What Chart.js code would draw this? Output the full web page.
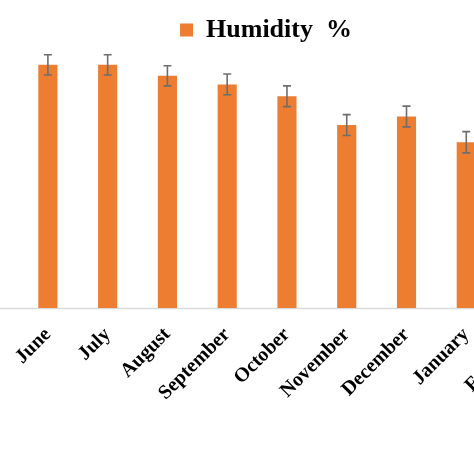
<!DOCTYPE html>
<html>
<head>
<meta charset="utf-8">
<script src="https://cdn.jsdelivr.net/npm/chart.js@4.4.1/dist/chart.umd.min.js"></script>
<style>
  html, body { margin: 0; padding: 0; background: #ffffff; }
  #wrap { width: 474px; height: 474px; overflow: hidden; position: relative; background: #fff; }
  #c { position: absolute; left: 0; top: 0; }
</style>
</head>
<body>
<div id="wrap"><canvas id="c" width="558" height="474"></canvas></div>
<script>
const months = ["June", "July", "August", "September", "October", "November", "December", "January", "February"];
const humidity = [82.0, 82.0, 78.3, 75.4, 71.4, 61.7, 64.6, 55.9, null];
const humidityError = [3.4, 3.4, 3.4, 3.5, 3.5, 3.5, 3.5, 3.6, null];
const seriesLabel = "Humidity  %";

const errorBars = {
  id: 'errorBars',
  afterDatasetsDraw(chart) {
    const meta = chart.getDatasetMeta(0);
    const ys = chart.scales.y;
    const ctx = chart.ctx;
    ctx.save();
    ctx.strokeStyle = '#6e6e6e';
    ctx.lineWidth = 1.6;
    meta.data.forEach((bar, i) => {
      const v = humidity[i], e = humidityError[i];
      if (v == null || e == null) return;
      const x = bar.x;
      const yt = ys.getPixelForValue(v + e);
      const yb = ys.getPixelForValue(v - e);
      ctx.beginPath();
      ctx.moveTo(x, yt); ctx.lineTo(x, yb);
      ctx.moveTo(x - 4, yt); ctx.lineTo(x + 4, yt);
      ctx.moveTo(x - 4, yb); ctx.lineTo(x + 4, yb);
      ctx.stroke();
    });
    ctx.restore();
  }
};

const axisLine = {
  id: 'axisLine',
  beforeDatasetsDraw(chart) {
    const ctx = chart.ctx;
    const y = chart.chartArea.bottom + 0.5;
    ctx.save();
    ctx.strokeStyle = '#d9d9d9';
    ctx.lineWidth = 1.5;
    ctx.beginPath();
    ctx.moveTo(0, y); ctx.lineTo(chart.width, y);
    ctx.stroke();
    ctx.restore();
  }
};

// the legend is centred over the visible part of the (cropped) chart
const legendShift = {
  id: 'legendShift',
  afterLayout(chart) {
    chart.legend.left -= 22;
    chart.legend.right -= 22;
  }
};

new Chart(document.getElementById('c'), {
  type: 'bar',
  data: {
    labels: months,
    datasets: [{
      label: seriesLabel,
      data: humidity,
      backgroundColor: '#ED7D31',
      borderWidth: 0,
      barPercentage: 0.32,
      categoryPercentage: 1.0
    }]
  },
  options: {
    responsive: false,
    animation: false,
    devicePixelRatio: 1,
    layout: { padding: { left: 18, right: 0, top: 0, bottom: 0 } },
    plugins: {
      legend: {
        display: true,
        position: 'top',
        labels: {
          boxWidth: 13,
          boxHeight: 13,
          padding: 17,
          color: '#000',
          font: { family: '"Liberation Serif", "Times New Roman", serif', size: 26, weight: 'bold' }
        }
      },
      tooltip: { enabled: false }
    },
    scales: {
      x: {
        grid: { display: false, drawTicks: false },
        border: { display: false },
        ticks: {
          autoSkip: false,
          minRotation: 45,
          maxRotation: 45,
          padding: 15,
          color: '#000',
          font: { family: '"Liberation Serif", "Times New Roman", serif', size: 20, weight: 'bold' }
        },
        afterFit(scale) { scale.height = 166; }
      },
      y: {
        display: false,
        min: 0,
        max: 86
      }
    }
  },
  plugins: [axisLine, errorBars, legendShift]
});
</script>
</body>
</html>
